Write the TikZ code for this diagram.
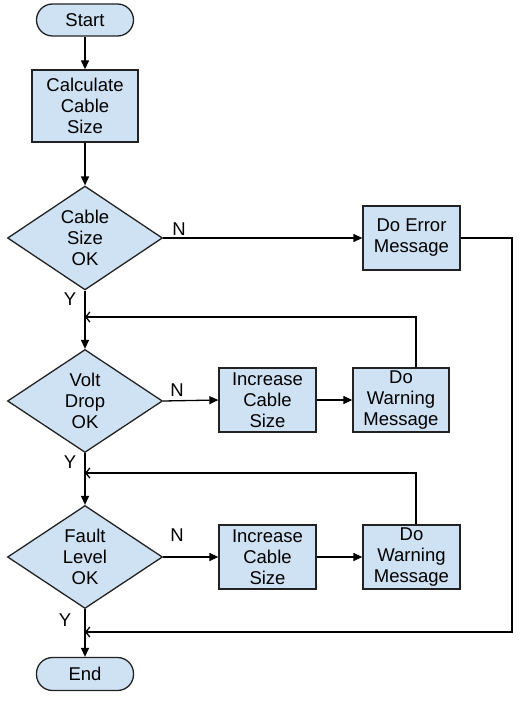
\documentclass[tikz,border=0pt]{standalone}
\usepackage{fontspec}
\setmainfont{Liberation Sans}
\usetikzlibrary{shapes.geometric,arrows.meta,calc}
\definecolor{boxfill}{HTML}{CFE2F3}
\definecolor{edge}{HTML}{222222}
\begin{document}
\begin{tikzpicture}[x=1pt,y=-1pt,
  every node/.style={font=\fontsize{18.5}{21}\selectfont, align=center},
  term/.style={draw=edge, line width=1.3pt, fill=boxfill, rectangle, rounded corners=16pt, minimum width=97pt, minimum height=32pt, inner sep=0pt},
  proc/.style={draw=edge, line width=1.3pt, fill=boxfill, rectangle, minimum width=97pt, minimum height=64pt, inner sep=0pt},
  dec/.style={draw=edge, line width=1.3pt, fill=boxfill, diamond, minimum width=155pt, minimum height=103pt, inner sep=0pt},
  flow/.style={line width=1.3pt, -{Triangle[length=9pt,width=8pt]}},
  merge/.style={line width=1.3pt, -{Straight Barb[length=4pt,width=10pt,line width=1.3pt]}},
  lbl/.style={inner sep=0pt}
]
\useasboundingbox (0,0) rectangle (522,703);

\node[term] (start) at (85,20) {Start};
\node[proc, minimum width=106pt, minimum height=72pt] (calc) at (85,106) {Calculate\\Cable\\Size};
\node[dec] (d1) at (85,238) {Cable\\Size\\OK};
\node[proc] (err) at (411.5,238) {Do Error\\Message};
\node[dec] (d2) at (85,401) {Volt\\Drop\\OK};
\node[proc] (inc1) at (267.5,400) {Increase\\Cable\\Size};
\node[proc, minimum width=96pt] (warn1) at (401,400) {Do\\Warning\\Message};
\node[dec] (d3) at (85,557) {Fault\\Level\\OK};
\node[proc] (inc2) at (267.5,557) {Increase\\Cable\\Size};
\node[proc] (warn2) at (411.5,557) {Do\\Warning\\Message};
\node[term, minimum height=33pt] (end) at (85,674) {End};

\coordinate (m1) at (85,317);
\coordinate (m2) at (85,473);
\coordinate (m3) at (85,632);
\coordinate (c1) at (416,317);
\coordinate (c2) at (416,473);
\coordinate (r1) at (512,238);
\coordinate (r2) at (512,632);

\draw[flow] (start) -- (calc);
\draw[flow] (calc) -- (d1);
\draw[flow] (d1.east) -- (err.west);
\draw[flow] (d1.south) -- (d2.north);
\draw[merge] (err.east) -- (r1) -- (r2) -- (m3);

\draw[flow] (d2.east) -- (inc1.west);
\draw[flow] (inc1) -- (warn1);
\draw[merge] (warn1.north -| c1) -- (c1) -- (m1);
\draw[flow] (d2.south) -- (d3.north);

\draw[flow] (d3.east) -- (inc2.west);
\draw[flow] (inc2) -- (warn2);
\draw[merge] (warn2.north -| c2) -- (c2) -- (m2);
\draw[flow] (d3.south) -- (end.north);

\node[lbl] (n1) at (179,229) {N};
\node[lbl] (n2) at (177,390) {N};
\node[lbl] (n3) at (177,535) {N};
\node[lbl] (y1) at (70,299) {Y};
\node[lbl] (y2) at (70,462) {Y};
\node[lbl] (y3) at (65,620) {Y};
\end{tikzpicture}
\end{document}
